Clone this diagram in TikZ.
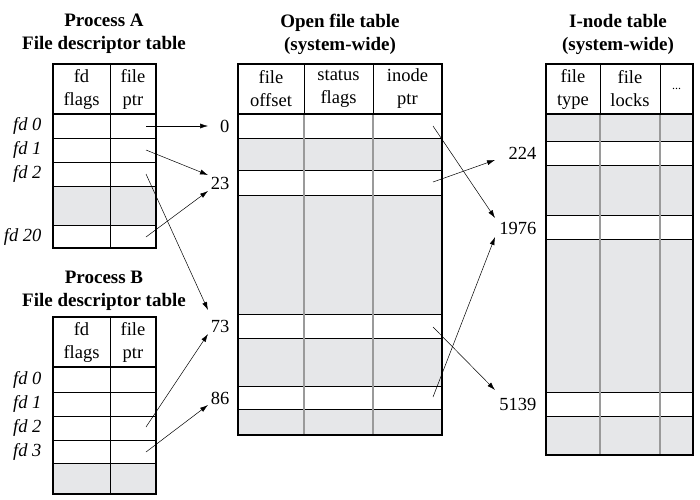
\documentclass[tikz,border=0pt]{standalone}
\usepackage{fontspec}
\setmainfont{Liberation Serif}
\usetikzlibrary{arrows.meta}
\definecolor{cellgray}{HTML}{E6E7E9}
\definecolor{divgray}{HTML}{9A9A9A}
\tikzset{
  frame/.style={line width=2.2pt},
  rowline/.style={line width=0.6pt},
  coldiv/.style={line width=1.2pt,divgray},
  ttl/.style={font=\fontsize{19}{23}\selectfont\bfseries,align=center},
  hdr/.style={font=\fontsize{18.5}{23}\selectfont,align=center},
  fdl/.style={font=\fontsize{18.5}{20}\selectfont\itshape,anchor=east},
  num/.style={font=\fontsize{18.5}{20}\selectfont,anchor=east},
  ptr/.style={-{Latex[length=8pt,width=5pt]},line width=0.5pt}
}
\begin{document}
\begin{tikzpicture}[x=1pt,y=-1pt]
\useasboundingbox (0,0) rectangle (700,499);
% ---------- Process A
\node[ttl] (tA) at (104,34) {Process A\\File descriptor table};
\fill[cellgray] (53,186) rectangle (156,225);
\foreach \y in {138,162,186,225} \draw[rowline] (53,\y) -- (156,\y);
\draw[rowline] (110,64) -- (110,248);
\draw[frame] (53,114) -- (156,114);
\draw[frame] (53,64) rectangle (156,248);
\node[hdr] (hA1) at (81.5,89) {fd\\flags};
\node[hdr] (hA2) at (133,89) {file\\ptr};
\node[fdl] (a0) at (45,126) {fd 0};
\node[fdl] (a1) at (45,150) {fd 1};
\node[fdl] (a2) at (45,174) {fd 2};
\node[fdl] (a20) at (45,237) {fd 20};
\coordinate (pa0) at (146,126);
\coordinate (pa1) at (146,150);
\coordinate (pa2) at (146,174);
\coordinate (pa20) at (146,237);
% ---------- Process B
\node[ttl] (tB) at (104,291) {Process B\\File descriptor table};
\fill[cellgray] (53,463) rectangle (156,494);
\foreach \y in {392,416,440,463} \draw[rowline] (53,\y) -- (156,\y);
\draw[rowline] (110,317) -- (110,494);
\draw[frame] (53,367) -- (156,367);
\draw[frame] (53,317) rectangle (156,494);
\node[hdr] (hB1) at (81.5,342) {fd\\flags};
\node[hdr] (hB2) at (133,342) {file\\ptr};
\node[fdl] (b0) at (45,380) {fd 0};
\node[fdl] (b1) at (45,404) {fd 1};
\node[fdl] (b2) at (45,428) {fd 2};
\node[fdl] (b3) at (45,452) {fd 3};
\coordinate (pb2) at (146,427);
\coordinate (pb3) at (146,452);
% ---------- Open file table
\node[ttl] (tO) at (340,34) {Open file table\\(system-wide)};
\fill[cellgray] (238,138) rectangle (442,170);
\fill[cellgray] (238,195) rectangle (442,314);
\fill[cellgray] (238,338) rectangle (442,386);
\fill[cellgray] (238,409) rectangle (442,435);
\foreach \y in {138,170,195,314,338,386,409} \draw[rowline] (238,\y) -- (442,\y);
\draw[rowline] (304,64) -- (304,114);
\draw[rowline] (373,64) -- (373,114);
\draw[coldiv] (304,115) -- (304,434);
\draw[coldiv] (373,115) -- (373,434);
\draw[frame] (238,114) -- (442,114);
\draw[frame] (238,64) rectangle (442,435);
\node[hdr] (hO1) at (271,89) {file\\offset};
\node[hdr] (hO2) at (338.5,89) {status\\flags};
\node[hdr] (hO3) at (407.5,89) {inode\\ptr};
\node[num] (n0) at (233,126) {0};
\node[num] (n23) at (233,183) {23};
\node[num] (n73) at (233,326) {73};
\node[num] (n86) at (233,398) {86};
\coordinate (q0) at (433,126);
\coordinate (q23) at (433,182);
\coordinate (q73) at (433,327);
\coordinate (q86) at (433,397);
% ---------- I-node table
\node[ttl] (tI) at (618,34) {I-node table\\(system-wide)};
\fill[cellgray] (546,114) rectangle (693,141);
\fill[cellgray] (546,165) rectangle (693,215);
\fill[cellgray] (546,239) rectangle (693,392);
\fill[cellgray] (546,416) rectangle (693,455);
\foreach \y in {141,165,215,239,392,416} \draw[rowline] (546,\y) -- (693,\y);
\draw[rowline] (600,64) -- (600,114);
\draw[rowline] (660,64) -- (660,114);
\draw[coldiv] (600,115) -- (600,454);
\draw[coldiv] (660,115) -- (660,454);
\draw[frame] (546,114) -- (693,114);
\draw[frame] (546,64) rectangle (693,455);
\node[hdr] (hI1) at (573,89) {file\\type};
\node[hdr] (hI2) at (630,89) {file\\locks};
\node[hdr,font=\fontsize{12}{14}\selectfont] (hI3) at (676.5,89) {...};
\node[num] (i224) at (540,153) {224};
\node[num] (i1976) at (540,228) {1976};
\node[num] (i5139) at (540,404) {5139};
% ---------- arrows
\draw[ptr] (pa0) -- (208,126);
\draw[ptr] (pa1) -- (208,175);
\draw[ptr] (pa20) -- (208,191);
\draw[ptr] (pa2) -- (208,310);
\draw[ptr] (pb2) -- (208,334);
\draw[ptr] (pb3) -- (208,405);
\draw[ptr] (q0) -- (495,218);
\draw[ptr] (q23) -- (495,160);
\draw[ptr] (q86) -- (495,237);
\draw[ptr] (q73) -- (495,390);
\end{tikzpicture}
\end{document}
